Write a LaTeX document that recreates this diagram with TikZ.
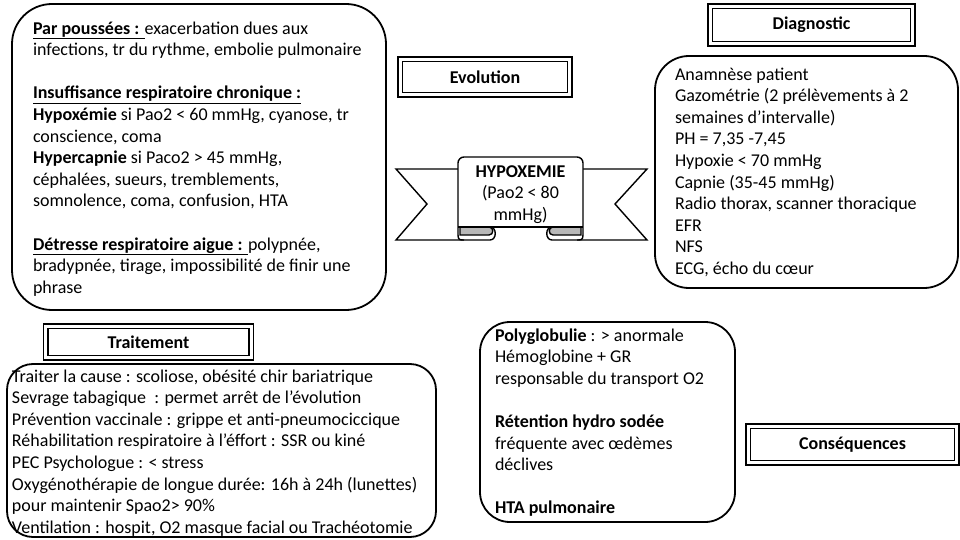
\documentclass[tikz,border=0pt]{standalone}
\usepackage{fontspec}
\setmainfont{Carlito}
\newcommand\mystrut{\rule{0pt}{15pt}}
\begin{document}
\begin{tikzpicture}[x=1pt,y=-1pt,
  every node/.style={font=\fontsize{18}{21.6}\selectfont},
  rbox/.style={draw=black, line width=1.8pt, rounded corners=30pt},
  dbox/.style={draw=black, double, double distance=3.4pt, line width=1.4pt, inner sep=0pt, font=\fontsize{18}{21.6}\selectfont\bfseries},
  txt/.style={inner sep=0pt, outer sep=0pt, align=left, anchor=north west},
  rib/.style={draw=black, line width=1.4pt},
  tail/.style={rib, fill=white, line join=miter},
  fold/.style={rib, fill=black!28}]
\useasboundingbox (0,0) rectangle (960,540);
\fill[white] (0,0) rectangle (960,540);

% rounded content boxes
\draw[rbox, rounded corners=40pt] (12,4) rectangle (386,310);
\draw[rbox, rounded corners=34pt] (655,56) rectangle (958,288);
\draw[rbox, rounded corners=26pt] (7,364) rectangle (436,537);
\draw[rbox, rounded corners=30pt] (480,322) rectangle (735,522);

% title boxes
\node[dbox, minimum width=169.5pt, minimum height=35.5pt] (evo) at (485,77) {Evolution};
\node[dbox, minimum width=202.5pt, minimum height=37.5pt] (diag) at (811.5,25) {Diagnostic};
\node[dbox, minimum width=205.5pt, minimum height=31.5pt] (trt) at (148.5,342) {Traitement};
\node[dbox, minimum width=208.5pt, minimum height=36.5pt] (csq) at (852.5,444.5) {Conséquences};

% ribbon
\draw[tail] (396,169) -- (470,169) -- (470,227) -- (490,227) .. controls (497,227) and (497,240) .. (490,240) -- (396,240) -- (427,204) -- cycle;
\draw[tail] (647,169) -- (571,169) -- (571,227) -- (552,227) .. controls (545,227) and (545,240) .. (552,240) -- (647,240) -- (615,204) -- cycle;
\draw[fold] (460,227) -- (489,227) .. controls (494,227) and (494,235) .. (489,235) -- (460,235) -- cycle;
\draw[fold] (581,227) -- (553,227) .. controls (548,227) and (548,235) .. (553,235) -- (581,235) -- cycle;
\fill[white, rounded corners=6pt] (458,227) -- (458,157) -- (583,157) -- (583,227) -- cycle;
\draw[rib, rounded corners=6pt] (458,235) -- (458,157) -- (583,157) -- (583,235);
\draw[rib] (458,227) -- (583,227);
\draw[rib] (458,235) .. controls (458,240) and (460,240) .. (464,240);
\draw[rib] (583,235) .. controls (583,240) and (581,240) .. (577,240);
\node[inner sep=0pt, align=center, anchor=north] (hyp) at (520.5,162) {\mystrut\textbf{HYPOXEMIE}\\(Pao2 < 80\\mmHg)};

% texts
\node[txt] (tl) at (33,19) {\mystrut\underline{\textbf{Par poussées : }}exacerbation dues aux\\
infections, tr du rythme, embolie pulmonaire\\[21.6pt]
\underline{\textbf{Insuffisance respiratoire chronique :}}\\
\textbf{Hypoxémie} si Pao2 < 60 mmHg, cyanose, tr\\
conscience, coma\\
\textbf{Hypercapnie} si Paco2 > 45 mmHg,\\
céphalées, sueurs, tremblements,\\
somnolence, coma, confusion, HTA\\[21.6pt]
\underline{\textbf{Détresse respiratoire aigue : }}polypnée,\\
bradypnée, tirage, impossibilité de finir une\\
phrase};

\node[txt] (dg) at (675,65) {\mystrut Anamnèse patient\\
Gazométrie (2 prélèvements à 2\\
semaines d’intervalle)\\
PH = 7,35 -7,45\\
Hypoxie < 70 mmHg\\
Capnie (35-45 mmHg)\\
Radio thorax, scanner thoracique\\
EFR\\
NFS\\
ECG, écho du cœur};

\node[txt] (tr) at (12,367) {\mystrut Traiter la cause : scoliose, obésité chir bariatrique\\
Sevrage tabagique~ : permet arrêt de l’évolution\\
Prévention vaccinale : grippe et anti-pneumociccique\\
Réhabilitation respiratoire à l’éffort : SSR ou kiné\\
PEC Psychologue : < stress\\
Oxygénothérapie de longue durée: 16h à 24h (lunettes)\\
pour maintenir Spao2> 90\%\\
Ventilation : hospit, O2 masque facial ou Trachéotomie};

\node[txt] (cq) at (495,326) {\mystrut\textbf{Polyglobulie} : > anormale\\
Hémoglobine + GR\\
responsable du transport O2\\[21.6pt]
\textbf{Rétention hydro sodée}\\
fréquente avec œdèmes\\
déclives\\[21.6pt]
\textbf{HTA pulmonaire}};
\end{tikzpicture}
\end{document}
